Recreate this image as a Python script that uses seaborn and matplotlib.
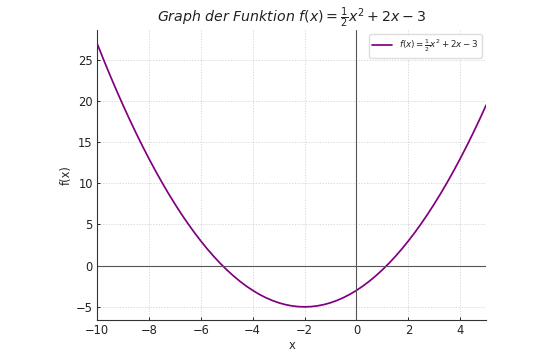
import numpy as np
import pandas as pd
import matplotlib
matplotlib.use("Agg")
import matplotlib.pyplot as plt
import seaborn as sns

# values at quarter-unit steps
x_vals = [-10.0, -9.75, -9.5, -9.25, -9.0, -8.75, -8.5, -8.25, -8.0, -7.75,
          -7.5, -7.25, -7.0, -6.75, -6.5, -6.25, -6.0, -5.75, -5.5, -5.25,
          -5.0, -4.75, -4.5, -4.25, -4.0, -3.75, -3.5, -3.25, -3.0, -2.75,
          -2.5, -2.25, -2.0, -1.75, -1.5, -1.25, -1.0, -0.75, -0.5, -0.25,
          0.0, 0.25, 0.5, 0.75, 1.0, 1.25, 1.5, 1.75, 2.0, 2.25,
          2.5, 2.75, 3.0, 3.25, 3.5, 3.75, 4.0, 4.25, 4.5, 4.75, 5.0]
y_vals = [27.0, 25.03125, 23.125, 21.28125, 19.5, 17.78125, 16.125, 14.53125, 13.0, 11.53125,
          10.125, 8.78125, 7.5, 6.28125, 5.125, 4.03125, 3.0, 2.03125, 1.125, 0.28125,
          -0.5, -1.21875, -1.875, -2.46875, -3.0, -3.46875, -3.875, -4.21875, -4.5, -4.71875,
          -4.875, -4.96875, -5.0, -4.96875, -4.875, -4.71875, -4.5, -4.21875, -3.875, -3.46875,
          -3.0, -2.46875, -1.875, -1.21875, -0.5, 0.28125, 1.125, 2.03125, 3.0, 4.03125,
          5.125, 6.28125, 7.5, 8.78125, 10.125, 11.53125, 13.0, 14.53125, 16.125, 17.78125, 19.5]
series_label = r"$f(x) = \frac{1}{2}x^2 + 2x - 3$"
title_text = r"Graph der Funktion $f(x) = \frac{1}{2}x^2 + 2x - 3$"

df = pd.DataFrame({"x": x_vals, "y": y_vals})

sns.set_style("ticks")
plt.rcParams["font.family"] = ["DejaVu Sans"]

fig, ax = plt.subplots(figsize=(5.39, 3.58), dpi=100)
fig.subplots_adjust(left=0.18, right=0.902, top=0.916, bottom=0.106)

sns.lineplot(data=df, x="x", y="y", color="purple", linewidth=1.25,
             label=series_label, ax=ax)

ax.axhline(0, color="#555555", linewidth=0.8)
ax.axvline(0, color="#555555", linewidth=0.8)

ax.set_xlim(-10, 5)
ax.set_ylim(-6.6, 28.6)
ax.set_xticks([-10, -8, -6, -4, -2, 0, 2, 4])
ax.set_yticks([-5, 0, 5, 10, 15, 20, 25])

ax.grid(True, linestyle="--", color="#cccccc", linewidth=0.5, dashes=(2, 2))
ax.set_title(title_text, fontsize=10.2, style="italic", color="#222222", pad=5)
ax.set_xlabel("x", fontsize=8.3, labelpad=1.5)
ax.set_ylabel("f(x)", fontsize=8.3, labelpad=2.5)
ax.tick_params(direction="in", labelsize=8.3, length=2.5, width=0.7, pad=3,
               colors="#222222")

for s in ["top", "right"]:
    ax.spines[s].set_visible(False)
for s in ["left", "bottom"]:
    ax.spines[s].set_color("#333333")
    ax.spines[s].set_linewidth(0.8)

ax.legend(loc="upper right", fontsize=6.3, frameon=True, framealpha=1,
          edgecolor="#dddddd", handlelength=2.2, borderaxespad=0.5)

fig.savefig("out.png", dpi=100)
